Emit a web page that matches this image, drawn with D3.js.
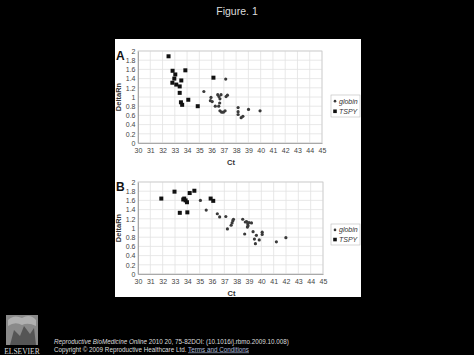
<!DOCTYPE html>
<html><head><meta charset="utf-8">
<script src="https://cdn.jsdelivr.net/npm/d3@7"></script>
<style>
html,body{margin:0;padding:0;background:#000;}
svg{display:block;font-family:"Liberation Sans",Arial,sans-serif;}
</style></head>
<body>
<svg id="c" width="474" height="355"></svg>
<script>
const xTicks = [30,31,32,33,34,35,36,37,38,39,40,41,42,43,44,45];
const yTicks = [0,0.2,0.4,0.6,0.8,1,1.2,1.4,1.6,1.8,2];
const seriesNames = ["globin","TSPY"];

const aGlobinCt = [35.37,35.95,35.9,36.05,36.3,36.58,36.5,36.6,36.77,36.68,36.66,36.68,36.82,36.96,37.1,37.15,37.18,37.29,38.16,38.16,38.16,38.41,38.55,39.01,39.95];
const aGlobinRn = [1.12,0.99,0.92,0.90,0.80,0.80,1.05,1.01,1.05,0.96,0.87,0.70,0.67,0.67,0.70,1.39,1.01,1.04,0.77,0.68,0.62,0.55,0.58,0.73,0.70];
const aTspyCt = [32.49,32.82,33.04,32.96,32.8,33.12,33.53,33.4,33.4,33.5,33.6,33.86,34.1,34.87,36.15];
const aTspyRn = [1.885,1.57,1.49,1.40,1.31,1.27,1.36,1.23,1.09,0.885,0.83,1.58,0.94,0.80,1.42];

const bGlobinCt = [35.06,35.53,36.43,36.62,37.12,37.25,37.55,37.63,37.69,37.74,38.49,38.65,38.7,38.8,38.87,38.9,38.92,39.0,39.2,39.33,39.44,39.52,39.6,39.83,40.07,40.07,41.22,41.99];
const bGlobinRn = [1.6,1.39,1.31,1.24,1.25,0.98,1.06,1.11,1.16,1.19,1.19,0.87,1.13,1.14,1.02,1.09,1.05,1.12,1.11,0.92,0.76,0.66,0.84,0.74,0.86,0.91,0.70,0.79];
const bTspyCt = [31.89,32.96,33.39,33.67,33.75,33.86,33.97,34.0,34.19,34.57,35.89,36.1];
const bTspyRn = [1.64,1.79,1.33,1.62,1.64,1.60,1.56,1.34,1.76,1.81,1.64,1.59];

const svg = d3.select("#c");

svg.append("text").attr("x",237).attr("y",15).attr("text-anchor","middle")
  .attr("fill","#ddd").attr("font-size",10.5).text("Figure. 1");

svg.append("rect").attr("x",115).attr("y",39).attr("width",246).attr("height",258).attr("fill","#fff");

function panel(letter, top, x1, gCt, gRn, tCt, tRn, legTop, legH){
  const x = d3.scaleLinear().domain([30,45]).range([138,x1]);
  const y = d3.scaleLinear().domain([0,2]).range([top+92,top]);
  const g = svg.append("g");
  g.selectAll(".vg").data(xTicks).join("line")
    .attr("x1",d=>x(d)).attr("x2",d=>x(d)).attr("y1",y(2)).attr("y2",y(0))
    .attr("stroke","#e2e2e2").attr("stroke-width",0.8);
  g.selectAll(".hg").data(yTicks).join("line")
    .attr("x1",x(30)).attr("x2",x(45)).attr("y1",d=>y(d)).attr("y2",d=>y(d))
    .attr("stroke","#e2e2e2").attr("stroke-width",0.8);
  g.append("rect").attr("x",x(30)).attr("y",y(2)).attr("width",x(45)-x(30)).attr("height",y(0)-y(2))
    .attr("fill","none").attr("stroke","#ccc").attr("stroke-width",0.8);
  const xa = g.append("g").attr("transform",`translate(0,${y(0)})`)
    .call(d3.axisBottom(x).tickValues(xTicks).tickSize(0).tickPadding(5).tickFormat(d3.format("d")));
  const ya = g.append("g").attr("transform",`translate(${x(30)},0)`)
    .call(d3.axisLeft(y).tickValues(yTicks).tickSize(0).tickPadding(2.5).tickFormat(d=>d3.format("")(+d.toFixed(1))));
  [xa,ya].forEach(a=>{a.select(".domain").attr("stroke","#999").attr("stroke-width",0.8);
    a.selectAll("text").attr("font-size",7).attr("fill","#444").attr("font-family","Liberation Sans, Arial, sans-serif");});
  g.append("text").attr("x",(x(30)+x(45))/2+1).attr("y",y(0)+22).attr("text-anchor","middle")
    .attr("font-size",7.5).attr("font-weight","bold").attr("fill","#333").text("Ct");
  g.append("text").attr("transform",`translate(121,${(y(0)+y(2))/2}) rotate(-90)`).attr("text-anchor","middle")
    .attr("font-size",7.5).attr("font-weight","bold").attr("fill","#333").text("DeltaRn");
  g.append("text").attr("x",116).attr("y",top+9).attr("font-size",12).attr("font-weight","bold").attr("fill","#111").text(letter);
  g.selectAll(".gp").data(gCt).join("circle")
    .attr("cx",d=>x(d)).attr("cy",(d,i)=>y(gRn[i])).attr("r",1.6).attr("fill","#3a3a3a");
  g.selectAll(".tp").data(tCt).join("rect")
    .attr("x",d=>x(d)-2).attr("y",(d,i)=>y(tRn[i])-2).attr("width",4).attr("height",4).attr("fill","#111");
  const lg = g.append("g");
  lg.append("rect").attr("x",331).attr("y",legTop).attr("width",29).attr("height",legH)
    .attr("fill","#fff").attr("stroke","#bbb").attr("stroke-width",0.6);
  const ly = d3.scalePoint().domain(seriesNames).range([legTop+legH*0.28, legTop+legH*0.74]);
  lg.append("circle").attr("cx",335).attr("cy",ly("globin")).attr("r",1.3).attr("fill","#3a3a3a");
  lg.append("rect").attr("x",333.2).attr("y",ly("TSPY")-1.8).attr("width",3.6).attr("height",3.6).attr("fill","#111");
  seriesNames.forEach(s=>{
    lg.append("text").attr("x",339).attr("y",ly(s)+2.5).attr("font-size",7).attr("font-style","italic")
      .attr("fill","#333").text(s);
  });
}
panel("A", 51, 322, aGlobinCt, aGlobinRn, aTspyCt, aTspyRn, 95, 22);
panel("B", 182, 323, bGlobinCt, bGlobinRn, bTspyCt, bTspyRn, 224, 21);

svg.append("rect").attr("x",100).attr("y",297).attr("width",280).attr("height",10).attr("fill","#000");

// Elsevier logo (approximation)
const logo = svg.append("g");
logo.append("rect").attr("x",6).attr("y",315).attr("width",32).attr("height",30).attr("fill","#8a8a8a");
logo.append("path").attr("d","M10,345 L14,330 L20,336 L24,326 L30,334 L34,328 L36,345 Z").attr("fill","#555");
logo.append("path").attr("d","M8,320 Q14,314 22,318 Q30,313 36,320 L36,326 Q28,322 22,325 Q15,321 8,326 Z").attr("fill","#b0b0b0");
logo.append("text").attr("x",22).attr("y",354).attr("text-anchor","middle").attr("font-size",7.5)
  .attr("font-family","Liberation Serif, serif").attr("fill","#ddd").text("ELSEVIER");

const f1 = svg.append("text").attr("x",54).attr("y",344).attr("font-size",6.3).attr("fill","#ddd");
f1.append("tspan").attr("font-style","italic").text("Reproductive BioMedicine Online");
f1.append("tspan").text(" 2010 20, 75-82DOI: (10.1016/j.rbmo.2009.10.008)");
const f2 = svg.append("text").attr("x",54).attr("y",351.5).attr("font-size",6.3).attr("fill","#ddd");
f2.append("tspan").text("Copyright © 2009 Reproductive Healthcare Ltd. ");
f2.append("tspan").attr("fill","#aab8d8").attr("text-decoration","underline").text("Terms and Conditions");
</script>
</body></html>
